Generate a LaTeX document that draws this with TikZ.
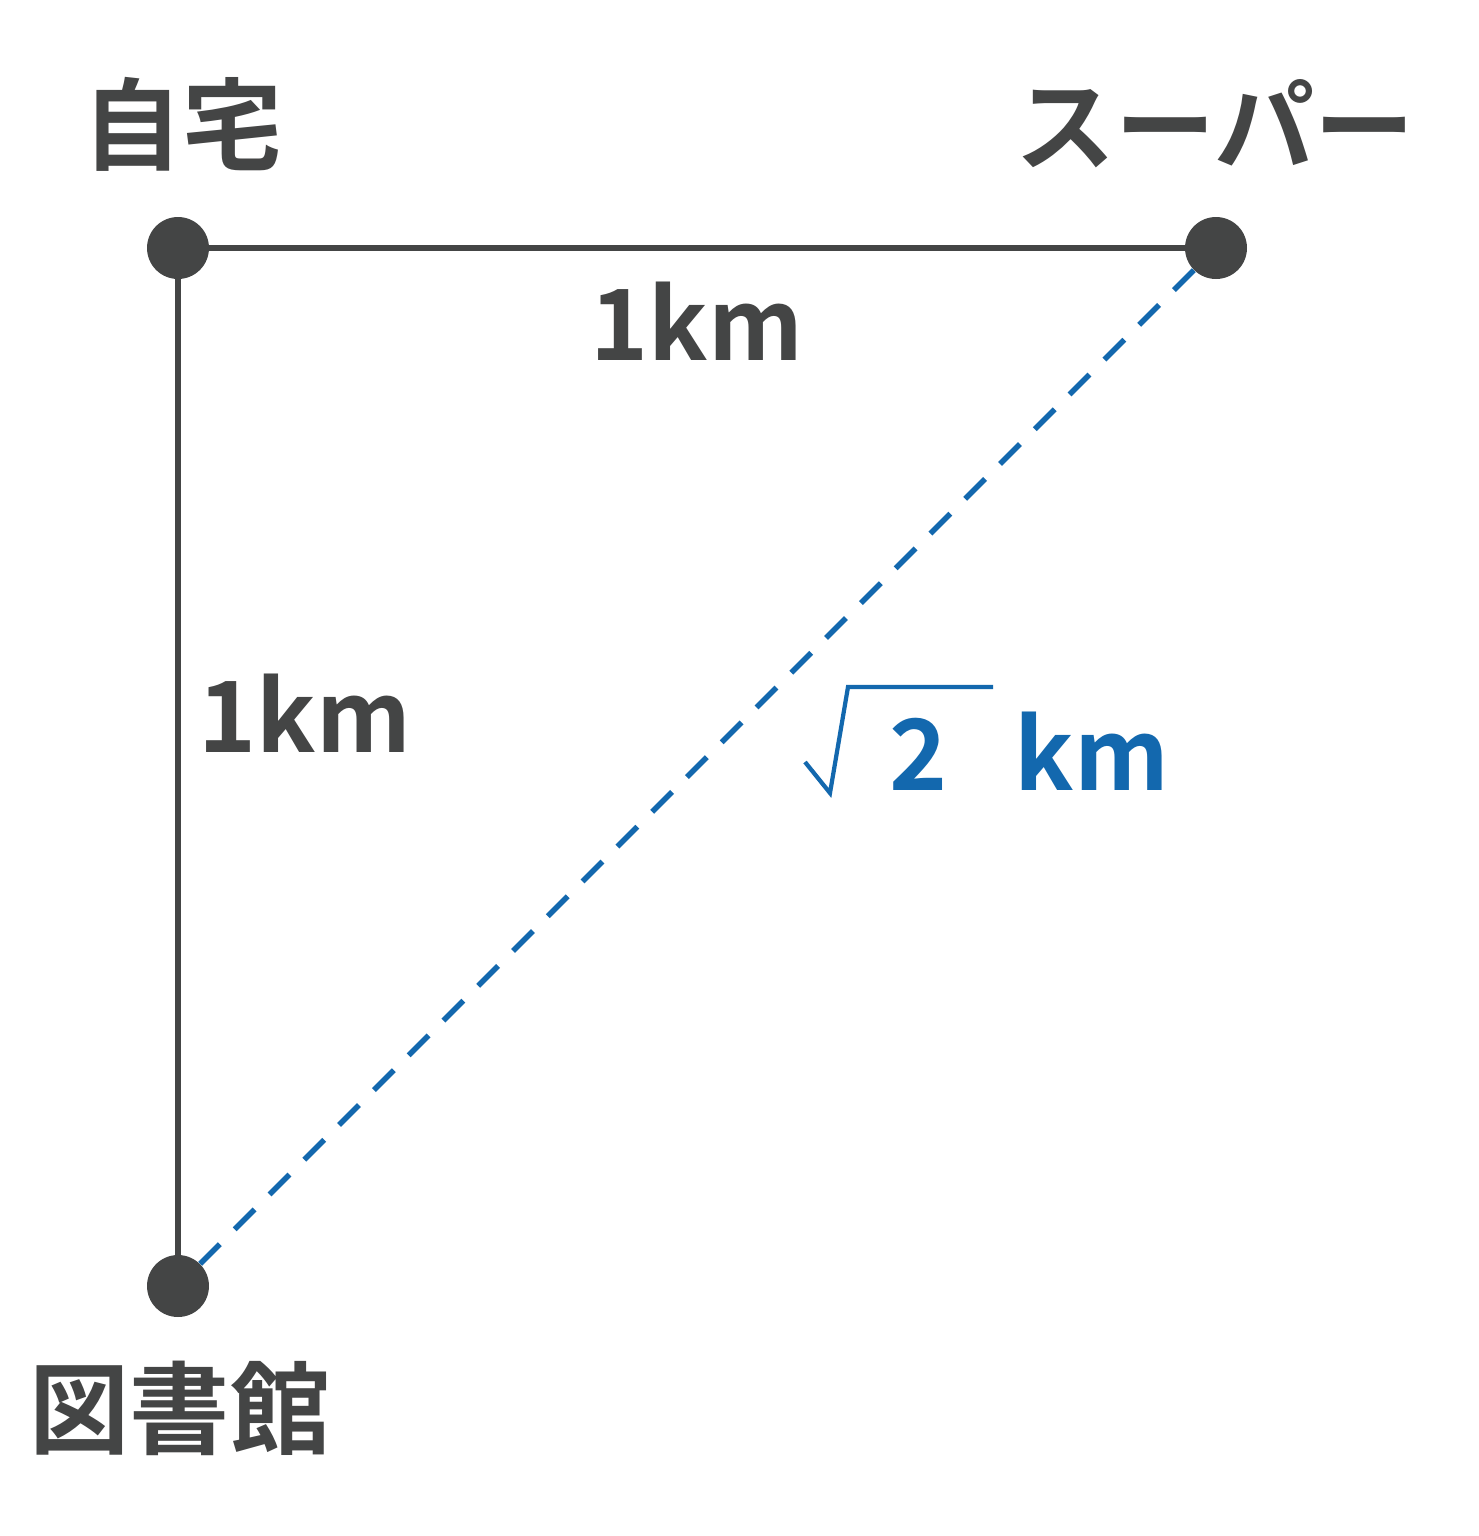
\documentclass[tikz,border=0pt]{standalone}
\usepackage{fontspec}
\setmainfont{Noto Sans CJK JP}[BoldFont={Noto Sans CJK JP Bold}]
\definecolor{dgray}{HTML}{444545}
\definecolor{nblue}{HTML}{1368AE}
\begin{document}
\begin{tikzpicture}[x=0.02cm,y=-0.02cm,
  dot/.style={circle,fill=dgray,draw=none,minimum size=1.24cm,inner sep=0pt},
  lbl/.style={inner sep=0pt,anchor=base,text=dgray,font=\fontsize{56}{60}\selectfont\bfseries},
  cjk/.style={inner sep=0pt,anchor=base,text=dgray,font=\fontsize{57}{60}\selectfont\bfseries},
  blbl/.style={inner sep=0pt,anchor=base,text=nblue,font=\fontsize{56}{60}\selectfont\bfseries},
  edge/.style={draw=dgray,line width=3.2pt},
  diag/.style={draw=nblue,line width=3.2pt,dash pattern=on 16pt off 12pt}]
\useasboundingbox[fill=white] (0,0) rectangle (1479,1536);
\node[dot] (home) at (178,248) {};
\node[dot] (super) at (1216,248) {};
\node[dot] (lib) at (178,1286) {};
\draw[edge] (home) -- (super);
\draw[edge] (home) -- (lib);
\draw[diag] (super) -- (lib);
\node[cjk] (thome) at (183,162) {自宅};
\node[cjk] (tsuper) at (1215,163) {スーパー};
\node[cjk] (tlib) at (180,1446) {図書館};
\node[lbl] (ktop) at (697,360) {1km};
\node[lbl] (kleft) at (305,752) {1km};
\node[blbl] (two) at (919,790) {2};
\node[blbl] (bkm) at (1092,790) {km};
\draw[draw=nblue,line width=2.4pt,line join=miter] (805,762) -- (830,793) -- (848,687) -- (993,687);
\end{tikzpicture}
\end{document}
